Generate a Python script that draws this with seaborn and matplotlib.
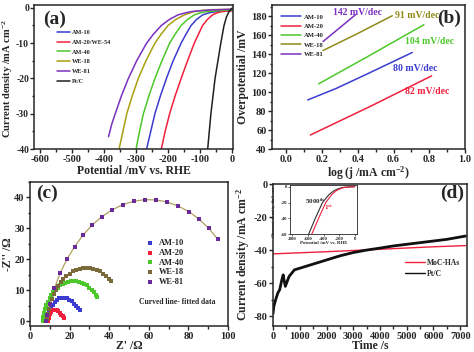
import numpy as np
import pandas as pd
import matplotlib
matplotlib.use("Agg")
import matplotlib.pyplot as plt
import seaborn as sns
from matplotlib.ticker import AutoMinorLocator

# ---- (a) polarization curves ----
lsv_names = ["AM-10", "AM-20/WE-54", "AM-40", "WE-18", "WE-81", "Pt/C"]
e_am10 = [-268, -255, -242, -225, -206, -185, -160, -145, -129, -112, -93, -72, -52, -25, 0]
j_am10 = [-40, -35, -30, -25, -20, -15, -10, -7.5, -5, -3.3, -2, -1.4, -1.1, -0.9, -0.8]
e_am20 = [-222, -210, -196, -179, -160, -140, -119, -106, -93, -78, -62, -48, -35, -15, 0]
j_am20 = [-40, -35, -30, -25, -20, -15, -10, -7.5, -5, -3.3, -2, -1.4, -1.1, -0.9, -0.8]
e_am40 = [-301, -290, -278, -261, -242, -220, -196, -179, -160, -140, -119, -100, -82, -45, 0]
j_am40 = [-40, -35, -30, -25, -20, -15, -10, -7.5, -5, -3.3, -2, -1.4, -1.1, -0.8, -0.6]
e_we18 = [-354, -342, -330, -313, -294, -270, -242, -223, -201, -177, -150, -125, -103, -60, 0]
j_we18 = [-40, -35, -30, -25, -20, -15, -10, -7.5, -5, -3.3, -2, -1.2, -0.8, -0.5, -0.4]
e_we81 = [-387, -377, -366, -347, -325, -299, -268, -247, -222, -197, -170, -146, -124, -70, 0]
j_we81 = [-36.5, -33, -30, -25, -20, -15, -10, -7.5, -5, -3.3, -2, -1.4, -1, -0.6, -0.4]
e_ptc = [-77, -67, -54, -36, -26, -18, -10, 0]
j_ptc = [-40, -30, -20, -10, -5, -2.5, -1, 0]

# ---- (b) Tafel ----
tafel_names = ["AM-10", "AM-20", "AM-40", "WE-18", "WE-81"]
logj_am10 = [0.12, 0.28, 0.45, 0.705]
eta_am10 = [91.8, 104, 119, 141.9]
logj_am20 = [0.135, 0.47, 0.813]
eta_am20 = [54.8, 85, 117.2]
logj_am40 = [0.181, 0.45, 0.77]
eta_am40 = [108.8, 137, 171.2]
logj_we18 = [0.206, 0.4, 0.593]
eta_we18 = [144, 162, 180.7]
logj_we81 = [0.206, 0.387]
eta_we81 = [153.5, 181.7]
tafel_slopes = ["80 mV/dec", "82 mV/dec", "104 mV/dec", "91 mV/dec", "142 mV/dec"]

# ---- (c) Nyquist ----
zr_am10 = [9.0, 9.3, 9.8, 10.5, 11.4, 12.4, 13.5, 14.7, 16.0, 17.3, 18.6, 19.8, 21.0, 22.1, 23.1, 24.1, 25.0]
zi_am10 = [0.0, 1.5, 3.0, 4.3, 5.4, 6.3, 7.0, 7.4, 7.6, 7.6, 7.4, 7.0, 6.4, 5.7, 5.0, 4.2, 3.5]
zr_am20 = [9.3, 9.6, 10.1, 10.8, 11.6, 12.5, 13.4, 14.3, 15.1, 15.9, 16.5, 17.0]
zi_am20 = [0.0, 1.2, 2.3, 3.1, 3.6, 3.8, 3.7, 3.3, 2.8, 2.1, 1.6, 1.2]
zr_am40 = [6.4, 6.7, 7.2, 7.7, 8.3, 9.1, 9.9, 10.8, 11.8, 12.9, 14.1, 15.3, 16.6, 17.9,
           19.3, 20.6, 22.0, 23.4, 24.8, 26.1, 27.4, 28.7, 29.9, 31.1, 32.2, 33.2, 33.8]
zi_am40 = [0.0, 1.4, 2.7, 3.9, 5.2, 6.3, 7.4, 8.4, 9.4, 10.2, 10.9, 11.6, 12.1, 12.5,
           12.8, 13.0, 13.1, 13.0, 12.8, 12.5, 12.1, 11.6, 10.9, 10.2, 9.4, 8.4, 7.8]
zr_we18 = [8.6, 9.0, 9.5, 10.2, 11.0, 12.0, 13.0, 14.2, 15.5, 16.9, 18.4, 20.0, 21.6,
           23.3, 25.0, 26.7, 28.5, 30.3, 32.0, 33.7, 35.4, 37.0, 38.6, 40.1, 40.9]
zi_we18 = [0.6, 2.3, 4.0, 5.6, 7.2, 8.7, 10.1, 11.4, 12.6, 13.6, 14.6, 15.4, 16.1,
           16.6, 17.0, 17.2, 17.3, 17.2, 17.0, 16.6, 16.1, 15.4, 14.6, 13.6, 13.0]
zr_we81 = [8.0, 8.6, 9.9, 12.3, 15.2, 18.6, 22.5, 26.7, 31.4, 36.3, 41.5, 46.9,
           52.5, 58.1, 63.8, 69.4, 74.9, 80.3, 85.4, 90.2, 94.7]
zi_we81 = [0.2, 2.0, 5.5, 10.6, 15.5, 20.0, 24.1, 27.8, 31.1, 33.8, 36.0, 37.7,
           38.8, 39.3, 39.2, 38.5, 37.2, 35.4, 33.0, 30.1, 26.6]

# ---- (d) stability ----
t_moc = [0, 2000, 4000, 6000, 7200]
j_moc = [-42.3, -41.0, -39.5, -38.0, -37.3]
t_pt = [0, 30, 100, 180, 250, 330, 380, 400, 460, 600, 800, 1000, 1500, 2000, 2500,
        3000, 3500, 4000, 4500, 5000, 5500, 6000, 6500, 7200]
j_pt = [-78.5, -74, -70, -66, -64, -58, -55, -57, -62, -56, -52, -51, -48.5, -46, -43.5,
        -41.5, -40, -38.8, -37.5, -36.5, -35.5, -34.5, -33.5, -31.5]
# inset: 1st vs 5000th cycle
e_cyc5000 = [-590, -505, -413, -330, -265, -210, -160, -100, -50, 0]
e_cyc1 = [-550, -463, -371, -295, -236, -185, -139, -90, -45, 0]
j_cyc = [-60, -40, -20, -10, -5, -2.5, -1, -0.4, -0.2, 0]

sns.set_style("ticks")
plt.rcParams["font.family"] = ["Liberation Serif", "DejaVu Serif"]
plt.rcParams["font.weight"] = "bold"
plt.rcParams["axes.labelweight"] = "bold"
plt.rcParams["axes.unicode_minus"] = False
plt.rcParams["mathtext.fontset"] = "custom"
plt.rcParams["mathtext.rm"] = "Liberation Serif:bold"
plt.rcParams["mathtext.it"] = "Liberation Serif:italic:bold"
plt.rcParams["mathtext.bf"] = "Liberation Serif:bold"
plt.rcParams["mathtext.default"] = "rm"
plt.rcParams["axes.linewidth"] = 1.1
plt.rcParams["xtick.major.size"] = 3
plt.rcParams["ytick.major.size"] = 3
plt.rcParams["xtick.minor.size"] = 1.8
plt.rcParams["ytick.minor.size"] = 1.8
plt.rcParams["xtick.labelsize"] = 7.5
plt.rcParams["ytick.labelsize"] = 7.5
plt.rcParams["axes.labelsize"] = 8.5
plt.rcParams["xtick.major.pad"] = 1.0
plt.rcParams["ytick.major.pad"] = 1.0

blue, red, green, olive, purple = "#3b3bd0", "#f0203c", "#4cc82a", "#a8a010", "#7a30c0"

fig = plt.figure(figsize=(4.74, 3.52), dpi=100)
ax_a = fig.add_axes([0.0717, 0.5767, 0.4198, 0.409])
ax_b = fig.add_axes([0.5738, 0.5767, 0.4072, 0.409])
ax_c = fig.add_axes([0.0633, 0.074, 0.4177, 0.409])
ax_d = fig.add_axes([0.576, 0.074, 0.409, 0.403])
ax_in = fig.add_axes([0.6118, 0.335, 0.1414, 0.139])

# (a)
lsv = [(e_am10, j_am10, blue), (e_am20, j_am20, red), (e_am40, j_am40, green),
       (e_we18, j_we18, olive), (e_we81, j_we81, purple), (e_ptc, j_ptc, "#202020")]
for name, (e, j, c) in zip(lsv_names, lsv):
    sns.lineplot(x=e, y=j, ax=ax_a, color=c, lw=1.1, label=name, estimator=None, sort=False)
ax_a.set_xlim(-620, 2)
ax_a.set_ylim(-40, 0.8)
ax_a.set_xticks(range(-600, 1, 100))
ax_a.set_yticks([-40, -30, -20, -10, 0])
ax_a.set_xlabel("Potential /mV vs. RHE")
ax_a.set_ylabel("Current density /mA cm$^{-2}$", fontsize=7.6)
ax_a.xaxis.set_label_coords(0.5, -0.11)
ax_a.yaxis.set_label_coords(-0.095, 0.49)
ax_a.legend(loc="upper left", bbox_to_anchor=(0.1, 0.85), frameon=False, fontsize=4.5,
            handlelength=2.0, labelspacing=0.7, handletextpad=0.4, borderpad=0)
ax_a.text(0.045, 0.9, "(a)", transform=ax_a.transAxes, fontsize=14, fontweight="bold", va="center")

# (b)
tafel = [(logj_am10, eta_am10, blue), (logj_am20, eta_am20, red), (logj_am40, eta_am40, green),
         (logj_we18, eta_we18, "#8f8a18"), (logj_we81, eta_we81, purple)]
for name, (x, y, c) in zip(tafel_names, tafel):
    sns.lineplot(x=x, y=y, ax=ax_b, color=c, lw=1.1, label=name, estimator=None, sort=False)
slope_pos = [(0.723, 125), (0.789, 100.6), (0.804, 153.5), (0.733, 180.5), (0.40, 184.5)]
for (x, y), txt, (_, _, c) in zip(slope_pos, tafel_slopes, tafel):
    ax_b.text(x, y, txt, color=c, fontsize=7, fontweight="bold", ha="center", va="center")
ax_b.set_xlim(-0.08, 1.0)
ax_b.set_ylim(40, 192)
ax_b.set_xticks([0.0, 0.2, 0.4, 0.6, 0.8, 1.0])
ax_b.set_xticklabels(["0.0", "0.2", "0.4", "0.6", "0.8", "1.0"])
ax_b.set_yticks(range(40, 181, 20))
ax_b.set_xlabel("log (j /mA cm$^{-2}$)")
ax_b.set_ylabel("Overpotential /mV")
ax_b.xaxis.set_label_coords(0.5, -0.11)
ax_b.yaxis.set_label_coords(-0.12, 0.5)
ax_b.legend(loc="upper left", bbox_to_anchor=(0.03, 0.96), frameon=False, fontsize=4.8,
            handlelength=3.0, labelspacing=0.55, handletextpad=0.4, borderpad=0)
ax_b.text(0.855, 0.905, "(b)", transform=ax_b.transAxes, fontsize=14, fontweight="bold", va="center")

# (c)
nyq_names = ["AM-10", "AM-20", "AM-40", "WE-18", "WE-81"]
nyq = [(zr_am10, zi_am10, blue, blue), (zr_am20, zi_am20, red, red),
       (zr_am40, zi_am40, green, green), (zr_we18, zi_we18, "#7a6a3a", "#8a7a50"),
       (zr_we81, zi_we81, "#6a2a9a", "#b0a060")]
for name, (x, y, c, lc) in zip(nyq_names, nyq):
    sns.lineplot(x=x, y=y, ax=ax_c, color=lc, lw=0.9, estimator=None, sort=False)
    sns.scatterplot(x=x, y=y, ax=ax_c, color=c, marker="s", s=9, linewidth=0, label=name, zorder=3)
ax_c.set_xlim(0, 100)
ax_c.set_ylim(-1.5, 45)
ax_c.set_xticks(range(0, 101, 20))
ax_c.set_yticks(range(0, 41, 10))
ax_c.set_xlabel("Z' /Ω")
ax_c.set_ylabel("-Z'' /Ω")
ax_c.xaxis.set_label_coords(0.5, -0.095)
ax_c.yaxis.set_label_coords(-0.08, 0.5)
ax_c.legend(loc="upper left", bbox_to_anchor=(0.565, 0.63), frameon=False, fontsize=6,
            handlelength=1.0, labelspacing=0.19, handletextpad=0.6, borderpad=0,
            markerscale=1.0)
ax_c.text(0.745, 0.165, "Curved line- fitted data", transform=ax_c.transAxes, fontsize=5.5,
          fontweight="bold", ha="center", va="center")
ax_c.text(0.03, 0.92, "(c)", transform=ax_c.transAxes, fontsize=14, fontweight="bold", va="center")

# (d)
sns.lineplot(x=t_moc, y=j_moc, ax=ax_d, color=red, lw=1.0, label="MoC-HAs", estimator=None, sort=False)
sns.lineplot(x=t_pt, y=j_pt, ax=ax_d, color="#101010", lw=2.0, label="Pt/C", estimator=None, sort=False)
ax_d.set_xlim(0, 7250)
ax_d.set_ylim(-86, 0)
ax_d.set_xticks(range(0, 7001, 1000))
ax_d.set_yticks([-80, -60, -40, -20, 0])
ax_d.set_xlabel("Time /s")
ax_d.set_ylabel("Current density /mA cm$^{-2}$")
ax_d.xaxis.set_label_coords(0.5, -0.1)
ax_d.yaxis.set_label_coords(-0.11, 0.5)
leg = ax_d.legend(loc="upper left", bbox_to_anchor=(0.66, 0.5), frameon=False, fontsize=5.5,
                  handlelength=2.6, labelspacing=0.35, handletextpad=0.3, borderpad=0)
for h in leg.get_lines():
    h.set_linewidth(1.0)
ax_d.text(0.86, 0.935, "(d)", transform=ax_d.transAxes, fontsize=14, fontweight="bold", va="center")

# inset
sns.lineplot(x=e_cyc5000, y=j_cyc, ax=ax_in, color="#303030", lw=0.8, estimator=None, sort=False)
sns.lineplot(x=e_cyc1, y=j_cyc, ax=ax_in, color=red, lw=0.8, estimator=None, sort=False)
ax_in.set_xlim(-830, 30)
ax_in.set_ylim(-60, 2)
ax_in.set_xticks([-800, -600, -400, -200, 0])
ax_in.set_yticks([-60, -40, -20, 0])
ax_in.tick_params(labelsize=3.5, length=1.2, width=0.5, pad=0.8)
ax_in.set_xlabel("Potential /mV vs. RHE", fontsize=3.5, labelpad=0.3)
ax_in.set_ylabel("Current density /mA cm$^{-2}$", fontsize=3.5, labelpad=0.3)
for s in ax_in.spines.values():
    s.set_linewidth(0.6)
ax_in.text(-510, -19, "5000$^{th}$", fontsize=5, fontweight="bold", ha="center", va="center")
ax_in.text(-330, -27, "1$^{st}$", fontsize=5, fontweight="bold", color=red, ha="center", va="center")

for ax in (ax_a, ax_b, ax_c, ax_d):
    ax.xaxis.set_minor_locator(AutoMinorLocator(2))
    ax.yaxis.set_minor_locator(AutoMinorLocator(2))
    ax.tick_params(which="both", direction="out", width=1)
ax_a.tick_params(axis="y", which="major", labelsize=7, pad=0.5)

fig.savefig("out.png", dpi=100)
